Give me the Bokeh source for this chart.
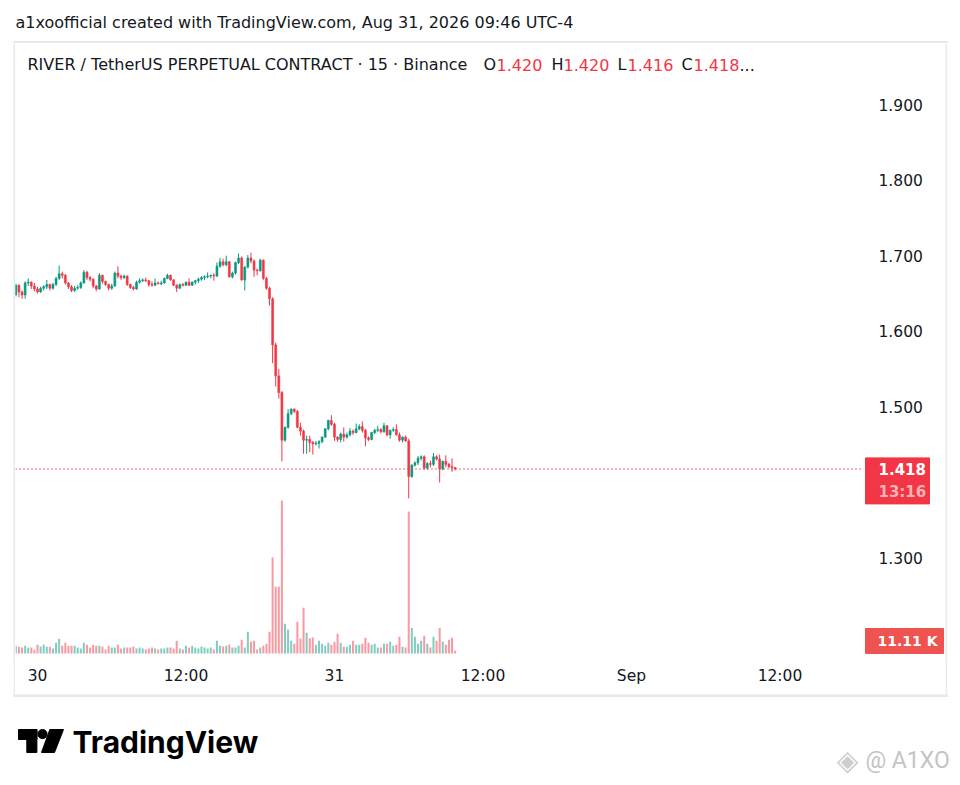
import pandas as pd
from bokeh.plotting import figure
from bokeh.layouts import column, row
from bokeh.models import (ColumnDataSource, Range1d, FixedTicker, Span, Label, Spacer)
from bokeh.core.properties import value
from bokeh.embed import file_html
from bokeh.resources import INLINE

# RIVERUSDT.P 15m candles, Binance, from Aug 29 22:15 to Aug 31 09:45
first_bar = "2026-08-29 22:15"

opens = [
    1.648, 1.661, 1.652, 1.648, 1.664, 1.665, 1.660, 1.656, 1.652, 1.657,
    1.659, 1.662, 1.657, 1.662, 1.670, 1.676, 1.674, 1.664, 1.659, 1.654,
    1.657, 1.658, 1.664, 1.678, 1.671, 1.669, 1.660, 1.656, 1.674, 1.666,
    1.662, 1.657, 1.660, 1.677, 1.673, 1.671, 1.673, 1.662, 1.658, 1.656,
    1.665, 1.667, 1.668, 1.667, 1.662, 1.661, 1.664, 1.663, 1.664, 1.670,
    1.674, 1.668, 1.661, 1.657, 1.662, 1.661, 1.665, 1.661, 1.665, 1.667,
    1.669, 1.671, 1.672, 1.673, 1.674, 1.673, 1.686, 1.692, 1.688, 1.692,
    1.672, 1.677, 1.691, 1.697, 1.668, 1.685, 1.697, 1.693, 1.681, 1.680,
    1.694, 1.670, 1.657, 1.643, 1.582, 1.541, 1.519, 1.456, 1.473, 1.491,
    1.497, 1.494, 1.473, 1.468, 1.456, 1.457, 1.453, 1.451, 1.452, 1.454,
    1.460, 1.471, 1.482, 1.477, 1.460, 1.457, 1.464, 1.460, 1.463, 1.468,
    1.466, 1.471, 1.474, 1.469, 1.459, 1.457, 1.466, 1.469, 1.470, 1.467,
    1.475, 1.463, 1.469, 1.470, 1.463, 1.456, 1.460, 1.455, 1.408, 1.423,
    1.426, 1.432, 1.434, 1.419, 1.425, 1.424, 1.434, 1.431, 1.418, 1.428,
    1.424, 1.421, 1.420]
highs = [
    1.663, 1.662, 1.654, 1.666, 1.670, 1.666, 1.664, 1.659, 1.659, 1.661,
    1.668, 1.663, 1.664, 1.672, 1.687, 1.679, 1.676, 1.665, 1.661, 1.660,
    1.661, 1.666, 1.681, 1.680, 1.673, 1.670, 1.661, 1.677, 1.675, 1.667,
    1.663, 1.663, 1.679, 1.686, 1.675, 1.675, 1.674, 1.663, 1.660, 1.667,
    1.670, 1.670, 1.671, 1.668, 1.666, 1.670, 1.666, 1.667, 1.671, 1.676,
    1.675, 1.669, 1.662, 1.663, 1.664, 1.666, 1.670, 1.666, 1.668, 1.671,
    1.673, 1.674, 1.678, 1.675, 1.677, 1.691, 1.697, 1.696, 1.700, 1.693,
    1.679, 1.692, 1.703, 1.699, 1.686, 1.701, 1.704, 1.695, 1.683, 1.696,
    1.695, 1.672, 1.659, 1.645, 1.585, 1.550, 1.521, 1.474, 1.497, 1.498,
    1.498, 1.496, 1.479, 1.470, 1.462, 1.462, 1.455, 1.455, 1.456, 1.461,
    1.472, 1.483, 1.489, 1.479, 1.461, 1.466, 1.473, 1.466, 1.472, 1.470,
    1.478, 1.477, 1.481, 1.471, 1.461, 1.467, 1.471, 1.475, 1.472, 1.479,
    1.476, 1.470, 1.473, 1.477, 1.466, 1.461, 1.462, 1.458, 1.424, 1.428,
    1.435, 1.436, 1.436, 1.427, 1.429, 1.439, 1.436, 1.437, 1.429, 1.436,
    1.426, 1.432, 1.420]
lows = [
    1.646, 1.645, 1.643, 1.643, 1.660, 1.656, 1.653, 1.650, 1.651, 1.654,
    1.656, 1.654, 1.655, 1.660, 1.668, 1.670, 1.662, 1.656, 1.652, 1.652,
    1.655, 1.656, 1.663, 1.668, 1.666, 1.657, 1.653, 1.655, 1.663, 1.660,
    1.654, 1.655, 1.659, 1.670, 1.668, 1.669, 1.660, 1.656, 1.654, 1.655,
    1.663, 1.665, 1.665, 1.659, 1.659, 1.660, 1.662, 1.661, 1.663, 1.669,
    1.667, 1.660, 1.652, 1.656, 1.659, 1.660, 1.660, 1.660, 1.662, 1.664,
    1.667, 1.668, 1.670, 1.670, 1.667, 1.672, 1.684, 1.686, 1.686, 1.671,
    1.670, 1.675, 1.689, 1.667, 1.654, 1.683, 1.690, 1.672, 1.674, 1.679,
    1.668, 1.655, 1.634, 1.558, 1.527, 1.511, 1.428, 1.454, 1.471, 1.489,
    1.492, 1.472, 1.462, 1.438, 1.438, 1.440, 1.437, 1.449, 1.445, 1.452,
    1.459, 1.469, 1.475, 1.455, 1.454, 1.453, 1.454, 1.458, 1.461, 1.463,
    1.465, 1.469, 1.466, 1.448, 1.455, 1.456, 1.464, 1.467, 1.465, 1.466,
    1.461, 1.458, 1.467, 1.462, 1.454, 1.453, 1.454, 1.379, 1.406, 1.421,
    1.423, 1.429, 1.417, 1.417, 1.420, 1.422, 1.429, 1.400, 1.416, 1.420,
    1.419, 1.414, 1.416]
closes = [
    1.661, 1.652, 1.648, 1.664, 1.665, 1.660, 1.656, 1.652, 1.657, 1.659,
    1.662, 1.657, 1.662, 1.670, 1.676, 1.674, 1.664, 1.659, 1.654, 1.657,
    1.658, 1.664, 1.678, 1.671, 1.669, 1.660, 1.656, 1.674, 1.666, 1.662,
    1.657, 1.660, 1.677, 1.673, 1.671, 1.673, 1.662, 1.658, 1.656, 1.665,
    1.667, 1.668, 1.667, 1.662, 1.661, 1.664, 1.663, 1.664, 1.670, 1.674,
    1.668, 1.661, 1.657, 1.662, 1.661, 1.665, 1.661, 1.665, 1.667, 1.669,
    1.671, 1.672, 1.673, 1.674, 1.673, 1.686, 1.692, 1.688, 1.692, 1.672,
    1.677, 1.691, 1.697, 1.668, 1.685, 1.697, 1.693, 1.681, 1.680, 1.694,
    1.670, 1.657, 1.643, 1.582, 1.541, 1.519, 1.456, 1.473, 1.491, 1.497,
    1.494, 1.473, 1.468, 1.456, 1.457, 1.453, 1.451, 1.452, 1.454, 1.460,
    1.471, 1.482, 1.477, 1.460, 1.457, 1.464, 1.460, 1.463, 1.468, 1.466,
    1.471, 1.474, 1.469, 1.459, 1.457, 1.466, 1.469, 1.470, 1.467, 1.475,
    1.463, 1.469, 1.470, 1.463, 1.456, 1.460, 1.455, 1.408, 1.423, 1.426,
    1.432, 1.434, 1.419, 1.425, 1.424, 1.434, 1.431, 1.418, 1.428, 1.424,
    1.421, 1.420, 1.418]
# volume, thousands of RIVER
volume_k = [
    31.5, 27.4, 24.7, 31.5, 24.7, 24.7, 15.1, 35.6, 28.8, 35.6,
    27.4, 27.4, 20.6, 43.8, 60.3, 31.5, 43.8, 31.5, 31.5, 31.5,
    24.7, 20.6, 43.8, 35.6, 24.7, 35.6, 31.5, 31.5, 27.4, 16.4,
    31.5, 24.7, 24.7, 35.6, 20.6, 24.7, 24.7, 24.7, 28.8, 20.6,
    24.7, 20.6, 16.4, 20.6, 24.7, 20.6, 16.4, 20.6, 20.6, 24.7,
    24.7, 20.6, 52.1, 20.6, 16.4, 31.5, 24.7, 31.5, 24.7, 20.6,
    28.8, 24.7, 20.6, 24.7, 16.4, 52.1, 31.5, 28.8, 31.5, 35.6,
    24.7, 24.7, 31.5, 56.2, 24.7, 89.1, 48.0, 52.1, 16.4, 24.7,
    31.5, 39.7, 89.1, 393.0, 274.0, 274.0, 627.0, 122.0, 98.6, 52.1,
    39.7, 130.0, 61.7, 188.0, 84.9, 63.0, 65.8, 35.6, 52.1, 39.7,
    31.5, 43.8, 35.6, 48.0, 80.8, 43.8, 27.4, 27.4, 35.6, 52.1,
    35.6, 35.6, 39.7, 64.4, 43.8, 35.6, 39.7, 24.7, 24.7, 39.7,
    39.7, 48.0, 31.5, 35.6, 68.5, 27.4, 24.7, 582.0, 105.0, 68.5,
    39.7, 52.1, 72.6, 39.7, 24.7, 68.5, 52.1, 105.0, 48.0, 35.6,
    56.2, 64.4, 11.11]

time_ticks = ["2026-08-30 00:00", "2026-08-30 12:00", "2026-08-31 00:00",
              "2026-08-31 12:00", "2026-09-01 00:00", "2026-09-01 12:00"]
time_labels = ["30", "12:00", "31", "12:00", "Sep", "12:00"]
price_ticks = [1.3, 1.5, 1.6, 1.7, 1.8, 1.9]

last_price = 1.418
countdown = "13:16"
last_volume = "11.11 K"

GREEN = "#089981"
RED = "#F23645"
INK = "#131722"
EDGE = "#E6E9EF"
FONT = "DejaVu Sans"


def blank(w, h, xr, yr, **kw):
    f = figure(width=w, height=h, x_range=xr, y_range=yr, x_axis_type=None, y_axis_type=None,
               output_backend="svg", toolbar_location=None, min_border=0, **kw)
    f.outline_line_color = None
    f.grid.visible = False
    return f


def edge(w, h):
    # a plain grey strip, used for the sides of the chart box
    f = blank(w, h, Range1d(0, 1), Range1d(0, 1))
    f.background_fill_color = EDGE
    f.border_fill_color = EDGE
    return f


times = pd.date_range(first_bar, periods=len(closes), freq="15min")
up = [c >= o for o, c in zip(opens, closes)]
src = ColumnDataSource(dict(
    t=times, h=highs, l=lows,
    top=[max(o, c) for o, c in zip(opens, closes)],
    bottom=[min(o, c) for o, c in zip(opens, closes)],
    col=[GREEN if u else RED for u in up],
    vcol=[GREEN + "80" if u else RED + "80" for u in up],
    vol=volume_k,
))

bar = 15 * 60 * 1000
t0 = pd.Timestamp("2026-08-30")
price_range = Range1d(1.16455, 1.98069)
vol_range = Range1d(-28.7, 2500)
px_price = 617 / (price_range.end - price_range.start)
px_vol = 617 / (vol_range.end - vol_range.start)

# ---- main pane: candles + volume + time axis
p = figure(x_axis_type="datetime", y_axis_type=None, width=847, height=651,
           x_range=Range1d(t0 - pd.Timedelta(hours=1.778), t0 + pd.Timedelta(hours=66.67)),
           y_range=price_range, output_backend="svg", toolbar_location=None,
           min_border_left=0, min_border_right=0, min_border_top=0, min_border_bottom=34)
p.extra_y_ranges = {"vol": vol_range}
p.grid.visible = False
p.outline_line_color = None

p.vbar(x="t", width=bar * 0.65, top="vol", bottom=0, fill_color="vcol", line_color=None,
       y_range_name="vol", source=src)
p.segment("t", "h", "t", "l", line_color="col", line_width=1, source=src)
p.vbar(x="t", width=bar * 0.62, top="top", bottom="bottom", fill_color="col",
       line_color="col", line_width=0.6, source=src)

p.add_layout(Span(location=last_price, dimension="width", line_color=RED,
                  line_dash="1 3", line_width=1.5))

tick_ms = [int(pd.Timestamp(t).value // 10**6) for t in time_ticks]
p.xaxis.ticker = FixedTicker(ticks=tick_ms)
p.xaxis.major_label_overrides = dict(zip(tick_ms, time_labels))
p.xaxis.axis_line_color = None
p.xaxis.major_tick_line_color = None
p.xaxis.minor_tick_line_color = None
p.xaxis.major_tick_out = 0
p.xaxis.major_tick_in = 0
p.xaxis.major_label_standoff = 6
p.xaxis.major_label_text_font = FONT
p.xaxis.major_label_text_font_size = "15.5px"
p.xaxis.major_label_text_color = INK


def put(text, px, py, size="16px", color=INK, style="normal", font=FONT):
    # legend text in the pane, page position (pane frame is at page x 15, bottom 660)
    p.add_layout(Label(x=px - 15, y=660 - py, x_units="screen", y_units="screen", text=text,
                       text_font=font, text_font_size=size, text_color=color,
                       text_font_style=style, text_baseline="middle"))


put("RIVER / TetherUS PERPETUAL CONTRACT · 15 · Binance", 27, 64)
for letter, lx, val, vx in [("O", 483, opens[-1], 496), ("H", 551, highs[-1], 563),
                            ("L", 617, lows[-1], 627), ("C", 681, closes[-1], 693)]:
    put(letter, lx, 64)
    put(f"{val:.3f}", vx, 64, color=RED)
put("...", 739, 64)

# ---- price scale
s = blank(83, 651, Range1d(0, 83), price_range, min_border_bottom=34)
s.extra_y_ranges = {"vol": vol_range}
s.text(x=[16] * len(price_ticks), y=price_ticks, text=[f"{t:.3f}" for t in price_ticks],
       text_font=value(FONT), text_font_size="15.5px", text_color=INK, text_baseline="middle")
s.quad(left=[3], right=[67], top=[last_price + 11 / px_price], bottom=[last_price - 35 / px_price],
       color=RED)
s.text(x=[16], y=[last_price], text=[f"{last_price:.3f}"], text_font=value(FONT),
       text_font_size="15px", text_font_style="bold", text_color="white", text_baseline="middle")
s.text(x=[16], y=[last_price - 23 / px_price], text=[countdown], text_font=value(FONT),
       text_font_size="15px", text_font_style="bold", text_color="#F9B1B6", text_baseline="middle")
s.quad(left=[3], right=[81], top=[25 / px_vol], bottom=[0], color="#EF5350", y_range_name="vol")
s.text(x=[15], y=[12.5 / px_vol], text=[last_volume], text_font=value(FONT),
       text_font_size="14px", text_font_style="bold", text_color="white", text_baseline="middle",
       y_range_name="vol")

# ---- header (page y 0..43), its bottom strip is the top of the chart box
head = blank(960, 43, Range1d(0, 960), Range1d(43, 0))
head.quad(left=[13], right=[947], top=[41], bottom=[43], color=EDGE)
head.add_layout(Label(x=15, y=22, text="a1xoofficial created with TradingView.com, Aug 31, 2026 09:46 UTC-4",
                      text_font=FONT, text_font_size="16px", text_color=INK, text_baseline="middle"))

# ---- footer (page y 694..784): bottom of the chart box, TradingView logo and watermark
foot = blank(960, 90, Range1d(0, 960), Range1d(90, 0))
foot.quad(left=[13], right=[947], top=[0], bottom=[2], color=EDGE)
foot.quad(left=[18, 26.3], right=[36.4, 36.4], top=[35, 35], bottom=[45, 58], color="black")
foot.circle(x=[42], y=[39.6], radius=4.6, color="black")
foot.patch(x=[49.3, 63, 54, 41], y=[35, 35, 58, 58], color="black")
foot.add_layout(Label(x=72, y=47, text="TradingView", text_font="Inter", text_font_size="30px",
                      text_font_style="bold", text_color="black", text_baseline="middle"))
foot.add_layout(Label(x=847, y=66, text="◈", text_font=FONT, text_font_size="28px",
                      text_color="#CDCDCD", text_align="center", text_baseline="middle"))
foot.add_layout(Label(x=865, y=66, text="@ A1XO", text_font="Roboto", text_font_size="23px",
                      text_color="#C4C4C4", text_baseline="middle"))

chart_box = row(Spacer(width=13, height=651), edge(2, 651), p, s, edge(2, 651))
page = column(head, chart_box, foot)

open("out.html", "w").write(file_html(page, INLINE))
